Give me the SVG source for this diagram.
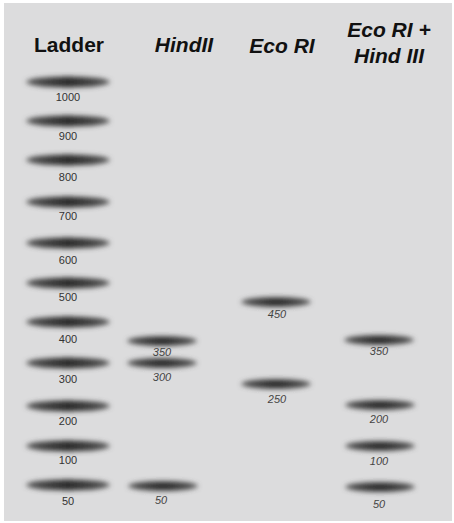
<svg xmlns="http://www.w3.org/2000/svg" width="454" height="523" viewBox="0 0 454 523">
<defs>
<linearGradient id="bg" x1="0" y1="0" x2="1" y2="0">
<stop offset="0" stop-color="#555"/>
<stop offset="0.5" stop-color="#2a2a2a"/>
<stop offset="1" stop-color="#555"/>
</linearGradient>
<filter id="blur" x="-20%" y="-150%" width="140%" height="400%">
<feGaussianBlur stdDeviation="2.8 2.4"/>
</filter>
</defs>
<style>
.band{fill:url(#bg);filter:url(#blur)}
.hdr{font-family:"Liberation Sans",Arial,sans-serif;font-weight:bold;font-size:21px;fill:#111;text-anchor:middle}
.it{font-style:italic}
.lbl{font-family:"Liberation Sans",Arial,sans-serif;font-size:11px;fill:#333;text-anchor:middle}
.lbli{font-family:"Liberation Sans",Arial,sans-serif;font-size:11px;fill:#444;font-style:italic;text-anchor:middle}
</style>
<rect x="0" y="0" width="454" height="523" fill="#ffffff"/>
<rect x="4" y="3" width="448" height="518" fill="#dcdcdd"/>
<g id="headers">
<text class="hdr" x="69" y="52">Ladder</text>
<text class="hdr it" x="184" y="52">HindII</text>
<text class="hdr it" x="282" y="53">Eco RI</text>
<text class="hdr it" x="389" y="37">Eco RI +</text>
<text class="hdr it" x="389" y="63">Hind III</text>
</g>
<g id="ladder">
<g id="l1000"><ellipse class="band" cx="68" cy="82" rx="42" ry="5.5"/><text class="lbl" x="68" y="101">1000</text></g>
<g id="l900"><ellipse class="band" cx="68" cy="121" rx="42" ry="5.5"/><text class="lbl" x="68" y="140">900</text></g>
<g id="l800"><ellipse class="band" cx="68" cy="160" rx="42" ry="5.5"/><text class="lbl" x="68" y="181">800</text></g>
<g id="l700"><ellipse class="band" cx="68" cy="202" rx="42" ry="5.5"/><text class="lbl" x="68" y="220">700</text></g>
<g id="l600"><ellipse class="band" cx="68" cy="243" rx="42" ry="5.5"/><text class="lbl" x="68" y="264">600</text></g>
<g id="l500"><ellipse class="band" cx="68" cy="283" rx="42" ry="5.5"/><text class="lbl" x="68" y="301">500</text></g>
<g id="l400"><ellipse class="band" cx="68" cy="322" rx="42" ry="5.5"/><text class="lbl" x="68" y="343">400</text></g>
<g id="l300"><ellipse class="band" cx="68" cy="363" rx="42" ry="5.5"/><text class="lbl" x="68" y="383">300</text></g>
<g id="l200"><ellipse class="band" cx="68" cy="406" rx="42" ry="5.5"/><text class="lbl" x="68" y="425">200</text></g>
<g id="l100"><ellipse class="band" cx="68" cy="446" rx="42" ry="5.5"/><text class="lbl" x="68" y="464">100</text></g>
<g id="l50"><ellipse class="band" cx="68" cy="485" rx="42" ry="5.5"/><text class="lbl" x="68" y="505">50</text></g>
</g>
<g id="hindII">
<g id="h350"><ellipse class="band" cx="162" cy="341" rx="35" ry="4.8"/><text class="lbli" x="162" y="356">350</text></g>
<g id="h300"><ellipse class="band" cx="162" cy="363" rx="35" ry="4.8"/><text class="lbli" x="162" y="381">300</text></g>
<g id="h50"><ellipse class="band" cx="163" cy="486" rx="35" ry="4.8"/><text class="lbli" x="161" y="504">50</text></g>
</g>
<g id="ecoRI">
<g id="e450"><ellipse class="band" cx="276" cy="302" rx="35" ry="4.8"/><text class="lbli" x="277" y="318">450</text></g>
<g id="e250"><ellipse class="band" cx="276" cy="384" rx="35" ry="4.8"/><text class="lbli" x="277" y="403">250</text></g>
</g>
<g id="ecoHind">
<g id="b350"><ellipse class="band" cx="379" cy="340" rx="35" ry="4.8"/><text class="lbli" x="379" y="355">350</text></g>
<g id="b200"><ellipse class="band" cx="380" cy="405" rx="35" ry="4.8"/><text class="lbli" x="379" y="423">200</text></g>
<g id="b100"><ellipse class="band" cx="380" cy="446" rx="35" ry="4.8"/><text class="lbli" x="379" y="465">100</text></g>
<g id="b50"><ellipse class="band" cx="380" cy="487" rx="35" ry="4.8"/><text class="lbli" x="379" y="508">50</text></g>
</g>
<g id="connectors"/>
</svg>
